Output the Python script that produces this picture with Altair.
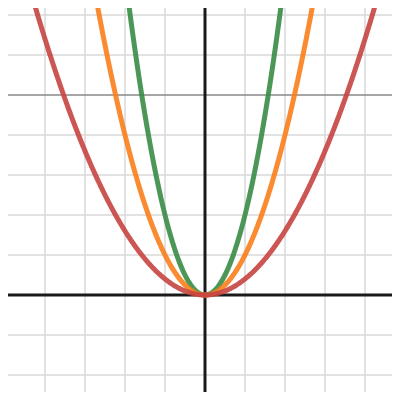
import altair as alt
import pandas as pd

# coefficients of y = a * x^2, drawn bottom to top
names = ["green", "orange", "red"]
coefs = [2.0, 1.0, 0.4]
colors = ["#388c46", "#fa7e19", "#c74440"]

minor_x = [-4, -3, -2, -1, 1, 2, 3, 4]
minor_y = [-2, -1, 1, 2, 3, 4, 6, 7]
major_y = [5]
axis_x = [0]
axis_y = [0]

xdom = [-4.925, 4.675]
ydom = [-2.425, 7.175]

xs = alt.Scale(domain=xdom, nice=False, zero=False)
ys = alt.Scale(domain=ydom, nice=False, zero=False)
noaxis = None


def vrules(vals, color, width):
    return alt.Chart(pd.DataFrame({"v": vals})).mark_rule(
        color=color, strokeWidth=width
    ).encode(x=alt.X("v:Q", scale=xs, axis=noaxis))


def hrules(vals, color, width):
    return alt.Chart(pd.DataFrame({"v": vals})).mark_rule(
        color=color, strokeWidth=width
    ).encode(y=alt.Y("v:Q", scale=ys, axis=noaxis))


grid = alt.layer(
    vrules(minor_x, "#d8d8d8", 1.5),
    hrules(minor_y, "#d8d8d8", 1.5),
    hrules(major_y, "#888888", 1.5),
)
axes = alt.layer(
    vrules(axis_x, "#1a1a1a", 3),
    hrules(axis_y, "#1a1a1a", 3),
)

curves = []
for name, a, c in zip(names, coefs, colors):
    curves.append(
        alt.Chart(alt.sequence(-5, 5.01, 0.02, as_="x"))
        .transform_calculate(y=f"{a} * datum.x * datum.x")
        .transform_filter("datum.y < 9")
        .mark_line(color=c, strokeWidth=5, clip=True, strokeOpacity=0.9)
        .encode(
            x=alt.X("x:Q", scale=xs, axis=noaxis),
            y=alt.Y("y:Q", scale=ys, axis=noaxis),
            order="x:Q",
        )
    )

chart = alt.layer(grid, axes, *curves).properties(
    width=384, height=384, padding=0, autosize=alt.AutoSizeParams(type="none")
).configure_view(stroke=None)

chart.save("out.html", embed_options={"renderer": "svg", "actions": False})
